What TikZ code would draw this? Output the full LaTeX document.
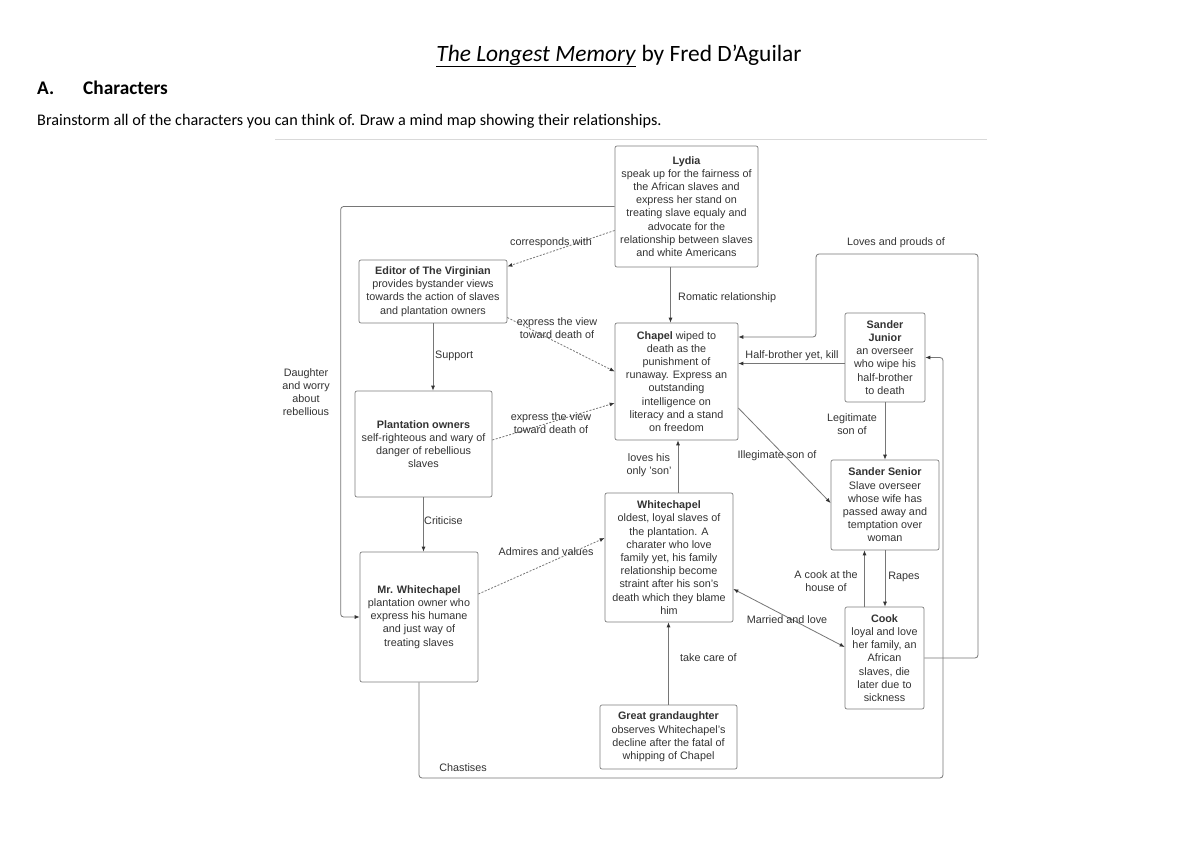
\documentclass[tikz,border=0pt]{standalone}
\usepackage{fontspec}
\setmainfont{Liberation Sans}
\newfontfamily\headfont{Carlito}
\usetikzlibrary{arrows.meta,calc}
\definecolor{boxline}{HTML}{7E7E7E}
\definecolor{ink}{HTML}{333333}
\definecolor{wire}{HTML}{767676}
\tikzset{
    char/.style = {
        draw=boxline,
        line width=0.7pt,
        rounded corners=2pt,
        align=center,
        text=ink,
        inner sep=0pt,
        font=\fontsize{10.8}{13.2}\selectfont,
        },
    rel/.style = {
        draw=wire,
        line width=0.8pt,
        rounded corners=3pt,
        -{Latex[length=5pt,width=4pt,color=ink]},
        },
    rel dashed/.style = {
        rel,
        dash pattern=on 2pt off 1.5pt,
        },
    both ways/.style = {
        {Latex[length=5pt,width=4pt,color=ink]}-{Latex[length=5pt,width=4pt,color=ink]},
        },
    tag/.style = {
        text=ink,
        align=center,
        inner sep=0pt,
        font=\fontsize{10.8}{13.2}\selectfont,
        },
    head/.style = {
        inner sep=0pt,
        font=\headfont,
        },
}

\begin{document}
\begin{tikzpicture}[x=1pt, y=-1pt]
            \fill[white] (0,0) rectangle (1200,848);
            \useasboundingbox (0,0) rectangle (1200,848);

            % header
            \node[head] (title) at (619,56) {\fontsize{23.4}{28}\selectfont\underline{\textit{The Longest Memory}} by Fred D’Aguilar};
            \node[head, anchor=west] (sectno) at (37,88) {\fontsize{19.3}{23}\selectfont\textbf{A.}};
            \node[head, anchor=west] (sect) at (83,88) {\fontsize{19.3}{23}\selectfont\textbf{Characters}};
            \node[head, anchor=west] (task) at (37,121) {\fontsize{16.2}{19}\selectfont Brainstorm all of the characters you can think of. Draw a mind map showing their relationships.};
            \draw[gray!30, line width=1pt] (275,140) -- (987,140);

            % characters
            \node[char, minimum width=143pt, minimum height=121pt] (lydia) at (686.5,206.5) {\textbf{Lydia}\\speak up for the fairness of\\the African slaves and\\express her stand on\\treating slave equaly and\\advocate for the\\relationship between slaves\\and white Americans};
            \node[char, minimum width=148pt, minimum height=63pt] (editor) at (433,291.5) {\textbf{Editor of The Virginian}\\provides bystander views\\towards the action of slaves\\and plantation owners};
            \node[char, minimum width=123pt, minimum height=117pt] (chapel) at (676.5,381.5) {\textbf{Chapel} wiped to\\death as the\\punishment of\\runaway. Express an\\outstanding\\intelligence on\\literacy and a stand\\on freedom};
            \node[char, minimum width=80pt, minimum height=89pt] (junior) at (885,357.5) {\textbf{Sander}\\\textbf{Junior}\\an overseer\\who wipe his\\half-brother\\to death};
            \node[char, minimum width=137pt, minimum height=106pt] (owners) at (423.5,444) {\textbf{Plantation owners}\\self-righteous and wary of\\danger of rebellious\\slaves};
            \node[char, minimum width=108pt, minimum height=90pt] (senior) at (885,505) {\textbf{Sander Senior}\\Slave overseer\\whose wife has\\passed away and\\temptation over\\woman};
            \node[char, minimum width=128pt, minimum height=129pt] (white) at (669,557.5) {\textbf{Whitechapel}\\oldest, loyal slaves of\\the plantation. A\\charater who love\\family yet, his family\\relationship become\\straint after his son's\\death which they blame\\him};
            \node[char, minimum width=118pt, minimum height=130pt] (mrwhite) at (419,617) {\textbf{Mr. Whitechapel}\\plantation owner who\\express his humane\\and just way of\\treating slaves};
            \node[char, minimum width=79pt, minimum height=102pt] (cook) at (884.5,658) {\textbf{Cook}\\loyal and love\\her family, an\\African\\slaves, die\\later due to\\sickness};
            \node[char, minimum width=137pt, minimum height=64pt] (grand) at (668.5,737) {\textbf{Great grandaughter}\\observes Whitechapel's\\decline after the fatal of\\whipping of Chapel};

            % relationships
            \path ([yshift=-24pt]lydia.west) edge[rel dashed] ([yshift=25pt]editor.east);
            \path ([xshift=-16pt]lydia.south) edge[rel] ([xshift=-16pt]lydia.south |- chapel.north);
            \draw[rel] (lydia.west) -| ([xshift=-19pt]mrwhite.west) -- (mrwhite.west);
            \path ([yshift=-26pt]editor.east) edge[rel dashed] ([yshift=10pt]chapel.west);
            \path (editor.south) edge[rel] (editor.south |- owners.north);
            \path ([yshift=4pt]owners.east) edge[rel dashed] ([yshift=-21.5pt]chapel.west);
            \path (owners.south) edge[rel] (owners.south |- mrwhite.north);
            \path ([yshift=23pt]mrwhite.east) edge[rel dashed] ([yshift=19.5pt]white.west);
            \path ([xshift=9pt]white.north) edge[rel] ([xshift=9pt]white.north |- chapel.south);
            \path (grand.north) edge[rel] (grand.north |- white.south);
            \path ([yshift=-31.5pt]white.east) edge[rel, both ways] ([yshift=11pt]cook.west);
            \path ([yshift=-26.5pt]chapel.east) edge[rel] ([yshift=2pt]senior.west);
            \path ([yshift=-6pt]junior.west) edge[rel] ([yshift=-6pt]junior.west -| chapel.east);
            \path (junior.south) edge[rel] (senior.north);
            \path (senior.south) edge[rel] (senior.south |- cook.north);
            \path ([xshift=-20pt]cook.north) edge[rel] ([xshift=-20pt]cook.north |- senior.south);

            \coordinate (loveR) at (978,254);
            \coordinate (loveL) at (816,254);
            \draw[rel] (cook.east) -| (loveR) -- (loveL) |- ([yshift=44.5pt]chapel.east);
            \coordinate (chase) at (943,778);
            \draw[rel] (mrwhite.south) |- (chase) |- (junior.east);

            % labels
            \node[tag] (t1) at (551,243) {corresponds with};
            \node[tag, anchor=west] (t2) at (678,298) {Romatic relationship};
            \node[tag] (t3) at (306,392) {Daughter\\and worry\\about\\rebellious};
            \node[tag] (t4) at (557,328) {express the view\\toward death of};
            \node[tag, anchor=west] (t5) at (435,356) {Support};
            \node[tag] (t6) at (551,423) {express the view\\toward death of};
            \node[tag, anchor=west] (t7) at (424,521) {Criticise};
            \node[tag] (t8) at (546,552) {Admires and values};
            \node[tag] (t9) at (649,465) {loves his\\only 'son'};
            \node[tag, anchor=west] (t10) at (680,658) {take care of};
            \node[tag] (t11) at (787,620) {Married and love};
            \node[tag] (t12) at (777,456) {Illegimate son of};
            \node[tag] (t13) at (792,356) {Half-brother yet, kill};
            \node[tag] (t14) at (852,424) {Legitimate\\son of};
            \node[tag] (t15) at (826,581) {A cook at the\\house of};
            \node[tag] (t16) at (904,577) {Rapes};
            \node[tag] (t17) at (896,243) {Loves and prouds of};
            \node[tag] (t18) at (463,768) {Chastises};
        \end{tikzpicture}
\end{document}
